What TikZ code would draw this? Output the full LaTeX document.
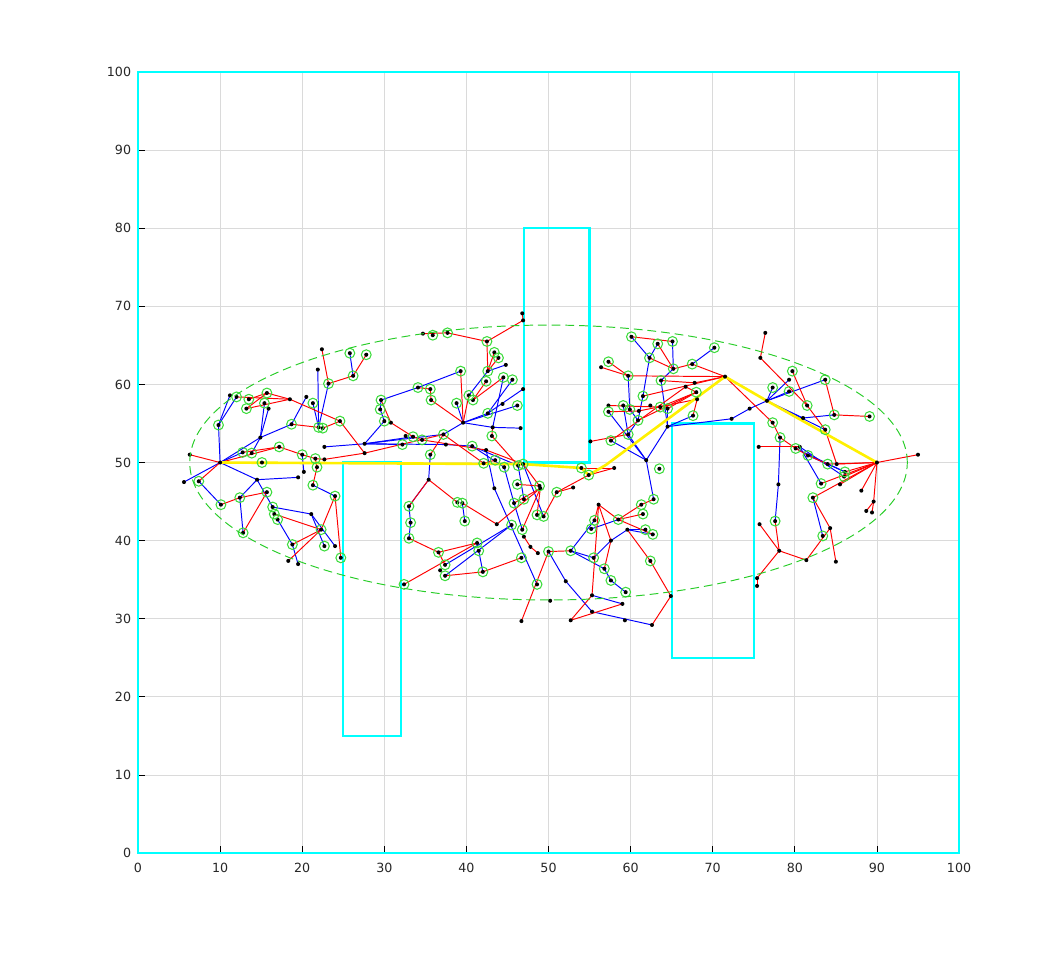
\documentclass[tikz,border=0pt]{standalone}
\usepackage{fontspec}
\setmainfont{DejaVu Sans}
\usepackage{tikz}

\definecolor{wallcyan}{RGB}{0,255,255}
\definecolor{ringgreen}{RGB}{60,220,60}
\definecolor{ellgreen}{RGB}{40,205,40}
\definecolor{pathyellow}{RGB}{255,240,0}
\definecolor{gridgray}{RGB}{218,218,218}

\begin{document}
\begin{tikzpicture}[x=0.1642cm,y=0.1562cm,
  tree/.style={blue,line width=.55pt},
  rewire/.style={red,line width=.55pt},
  ring/.style={ringgreen,line width=.6pt},
  lbl/.style={font=\fontsize{7.2}{8.6}\selectfont,inner sep=0pt,text=black!85}]
\useasboundingbox (-16.81,-13.57) rectangle (112.42,109.22);

% grid and ticks
\foreach \v in {10,20,...,90} {
  \draw[gridgray,line width=.4pt] (\v,0)--(\v,100);
  \draw[gridgray,line width=.4pt] (0,\v)--(100,\v);
  \draw[line width=.4pt] (\v,0)--(\v,0.9);
  \draw[line width=.4pt] (0,\v)--(0.9,\v);
}
\foreach \v in {0,10,...,100} {
  \node[lbl,anchor=north] (xt\v) at (\v,-1.3) {\v};
  \node[lbl,anchor=east] (yt\v) at (-0.8,\v) {\v};
}

% walls and obstacles
\draw[wallcyan,line width=1.3pt] (0,0) rectangle (100,100);
\draw[wallcyan,line width=1.3pt] (25,15) rectangle (32,50);
\draw[wallcyan,line width=1.3pt] (47,50) rectangle (55,80);
\draw[wallcyan,line width=1.3pt] (65,25) rectangle (75,55);

% tree vertices
\coordinate (S) at (10,50);
\coordinate (G) at (90,50);
\coordinate (p1) at (57.0,49.7);
\foreach \n/\x/\y in {
 l1/6.3/51.0, l2/9.8/54.8, l3/11.2/58.6, l4/12.0/58.4, l5/13.5/58.1, l6/13.2/56.9,
 l7/15.7/58.9, l8/15.4/57.6, l9/15.9/56.9, l10/18.5/58.1, l11/14.9/53.2, l12/12.75/51.3,
 l13/13.85/51.2, l14/17.2/52.0, l15/15.1/50.0, l16/18.7/54.9, l17/20.5/58.4, l18/21.3/57.6,
 l19/22.0/54.5, l20/22.5/54.4, l21/24.6/55.3, l22/22.4/64.5, l23/21.9/61.9, l24/23.2/60.1,
 l25/26.2/61.1, l26/25.8/64.0, l27/27.8/63.8, l28/20.0/51.0, l29/21.6/50.5, l30/22.7/50.4,
 l31/22.7/52.0, l32/27.6/52.4, l33/27.6/51.2, l34/20.2/48.8, l35/21.8/49.4, l36/5.6/47.5,
 l37/7.4/47.6, l38/10.1/44.6, l39/12.4/45.5, l40/15.7/46.2, l41/14.5/47.8, l42/12.8/41.0,
 l43/16.4/44.3, l44/16.6/43.4, l45/17.0/42.7, l46/21.1/43.4, l47/22.3/41.4, l48/22.7/39.3,
 l49/24.0/39.3, l50/24.7/37.8, l51/18.8/39.5, l52/18.3/37.4, l53/19.5/37.0, l54/19.5/48.1,
 l55/21.3/47.1, l56/24.0/45.7,
 m1/34.7/66.5, m2/35.9/66.3, m3/37.7/66.6, m4/42.5/65.5, m5/46.9/68.2, m6/46.8/69.1,
 m7/43.4/64.1, m8/43.9/63.4, m9/44.8/62.5, m10/42.6/61.7, m11/42.4/60.4, m12/39.3/61.7,
 m13/44.5/60.9, m14/45.6/60.6, m15/34.1/59.6, m16/35.6/59.4, m17/35.7/58.0, m18/40.3/58.6,
 m19/40.8/58.0, m20/38.8/57.6, m21/46.9/59.4, m22/44.4/57.5, m23/46.2/57.3, m24/42.6/56.3,
 m25/39.6/55.1, m26/43.2/54.5, m27/46.6/54.4, m28/43.1/53.4, m29/29.6/58.0, m30/29.5/56.8,
 m31/30.0/55.3, m32/30.8/55.1, m33/32.6/53.4, m34/33.5/53.3, m35/34.6/52.9, m36/37.2/53.6,
 m37/32.2/52.3, m38/37.5/52.3, m39/40.7/52.1, m40/42.4/51.6, m41/35.6/51.0, m42/42.1/49.9,
 m43/43.5/50.3, m44/44.6/49.4, m45/46.3/49.6, m46/46.9/49.8, m47/35.4/47.8, m48/33.0/44.4,
 m49/33.2/42.3, m50/33.0/40.3, m51/38.9/44.9, m52/39.5/44.8, m53/39.8/42.5, m54/43.7/42.1,
 m55/45.5/42.0, m56/36.6/38.5, m57/36.8/36.2, m58/37.4/36.9, m59/37.4/35.5, m60/41.3/39.7,
 m61/41.5/38.7, m62/42.0/36.0, m63/32.4/34.4, m64/46.7/37.8, m65/48.6/34.4, m66/46.7/29.7,
 m67/43.4/46.7, m68/46.2/47.2, m69/45.8/44.8, m70/47.0/45.3, m71/48.6/43.3, m72/49.4/43.1,
 m73/46.8/41.4, m74/47.0/40.5, m75/47.8/39.2, m76/48.7/38.4, m77/50.0/38.6, m78/48.9/47.0,
 m79/49.0/46.7,
 c1/60.1/66.1, c2/63.3/65.2, c3/65.1/65.5, c4/70.2/64.7, c5/62.3/63.4, c6/57.3/62.9,
 c7/56.4/62.2, c8/65.2/62.0, c9/67.5/62.6, c10/71.5/61.0, c11/59.7/61.1, c12/63.7/60.5,
 c13/67.8/60.2, c14/66.7/59.7, c15/68.0/59.0, c16/61.5/58.5, c17/68.1/58.1, c18/57.3/57.3,
 c19/59.1/57.3, c20/59.9/56.8, c21/61.0/56.6, c22/62.4/57.3, c23/63.6/57.1, c24/64.5/56.9,
 c25/57.3/56.5, c26/60.9/55.4, c27/67.6/56.0, c28/64.5/54.6, c29/59.7/53.6, c30/57.6/52.8,
 c31/55.1/52.7, c32/61.9/50.3, c33/63.5/49.2, c34/54.0/49.3, c35/54.9/48.4, c36/58.0/49.3,
 c37/53.0/46.8, c38/51.0/46.2, c39/56.1/44.6, c40/55.6/42.6, c41/55.2/41.5, c42/58.5/42.7,
 c43/61.3/44.6, c44/62.8/45.3, c45/61.5/43.4, c46/59.6/41.4, c47/61.8/41.4, c48/62.7/40.8,
 c49/57.6/40.0, c50/52.7/38.7, c51/55.5/37.8, c52/56.8/36.4, c53/57.6/34.9, c54/59.4/33.4,
 c55/62.4/37.4, c56/52.1/34.8, c57/50.2/32.3, c58/55.3/33.0, c59/59.0/31.9, c60/55.3/30.9,
 c61/52.7/29.8, c62/59.3/29.8, c63/62.6/29.2, c64/64.9/32.9, c65/72.3/55.6,
 r1/76.4/66.6, r2/75.8/63.4, r3/79.7/61.7, r4/79.3/60.6, r5/77.3/59.6, r6/79.3/59.1,
 r7/76.6/57.9, r8/83.7/60.6, r9/81.5/57.3, r10/74.5/56.9, r11/81.0/55.7, r12/84.8/56.1,
 r13/89.1/55.9, r14/77.3/55.1, r15/83.7/54.2, r16/78.2/53.2, r17/75.6/52.0, r18/80.1/51.8,
 r19/80.6/52.0, r20/81.6/50.9, r21/84.0/49.8, r22/85.1/49.8, r23/95.0/51.0, r24/86.1/48.8,
 r25/86.0/48.2, r26/78.0/47.2, r27/77.6/42.5, r28/75.7/42.1, r29/78.1/38.7, r30/81.4/37.5,
 r31/75.4/35.2, r32/75.4/34.2, r33/83.2/47.3, r34/82.2/45.5, r35/85.5/47.2, r36/83.4/40.6,
 r37/84.3/41.6, r38/85.0/37.3, r39/88.1/46.4, r40/89.6/45.0, r41/88.7/43.8, r42/89.4/43.6}
  \coordinate (\n) at (\x,\y);

% tree edges
\foreach \a/\b in {S/l2, l2/l3, l2/l4, l8/l11, l9/l11, l11/S, l11/l16, l16/l17, l18/l19,
 l23/l19, l24/l19, l25/l26, S/l12, l13/l11, l31/l32, S/l36, l37/l38, l39/l41, l39/l42,
 l41/l43, l41/S, l41/l54, l43/l46, l46/l48, l46/l49, l45/l51, l51/l53, l55/l56, l34/l28,
 m15/m29, m29/m30, m30/m31, m31/l32, l32/m36, l32/m34, l32/m38, m37/l32, m36/m25, m25/m20,
 m25/m24, m25/m26, m25/m23, m26/m27, m26/m13, m24/m14, m24/m21, m10/m9, m10/m18, m15/m12,
 m38/m39, m39/m44, m39/m45, m41/m47, m47/m48, m48/m49, m49/m50, m52/m53, m58/m55, m59/m55,
 m61/m62, m40/m67, m67/m65, m45/m70, m44/m69, m46/m72, m69/m73,
 c1/c5, c2/c5, c3/c8, c5/c16, c8/c12, c9/c4, c11/c20, c12/c28, c16/c26, c19/c29, c20/c26,
 c26/c29, c29/c32, c30/c32, c28/c32, c25/c32, c28/c27, c24/c28, c28/c65, c65/r10, r10/r7,
 r4/r7, r5/r7, r6/r7, r8/r7, r7/r15, r7/r11, r11/r12, c32/c44, c40/c50, c41/c42, c50/c51,
 c51/c49, c49/c46, c46/c47, c46/c48, c50/c52, c52/c53, c53/c54, m77/c56, c56/c60, c60/c63,
 c58/c59, r26/r16, r26/r27, r34/r36, r33/r19, r18/r24, r20/r24, r19/r25}
  \draw[tree] (\a)--(\b);

% rewired edges
\foreach \a/\b in {S/l1, S/l37, l4/l10, l5/l7, l7/l10, l6/l10, l6/l7, l10/l21, l16/l19,
 l20/l21, l21/l33, l22/l24, l24/l25, l25/l27, l12/l14, S/l14, l14/l28, l28/l29, l29/l30,
 l30/l33, S/l15, l38/l39, l39/l40, l42/l40, l44/l47, l47/l51, l47/l56, l47/l52, l56/l50,
 l29/l35, l35/l55,
 l33/m36, m29/m32, m32/m34, m34/m35, m35/m40, m36/m41, m36/m42, m1/m3, m3/m4, m4/m5,
 m5/m6, m4/m10, m7/m10, m8/m10, m11/m19, m12/m25, m15/m16, m16/m17, m17/m25, m19/m13,
 m18/m25, m26/m28, m28/m45, m42/m43, m40/m46, m47/m48, m47/m51, m52/m54, m54/m79, m50/m56,
 m56/m60, m56/m58, m59/m62, m62/m64, m63/m60, m66/m77, m46/m78, m79/m71, m79/m73, m79/m69,
 m74/m75, m75/m76, m68/m78,
 c1/c3, c2/c8, c5/c8, c8/c9, c9/c10, c7/c11, c6/c11, c11/c10, c12/c13, c13/c10, c16/c10,
 c14/c15, c18/c23, c23/c15, c24/c15, c25/c21, c21/c17, c26/c15, c27/c17, c31/c29, c30/c14,
 c34/c36, c35/c36, c37/c38, c38/c35, c38/m72, c39/c42, c39/c40, c39/c58, c39/c49, c42/c43,
 c42/c45, c42/c48, c43/c44, c46/c55, c55/c64, c64/c63, c49/c52, c50/m77, c58/c61, c61/c59,
 r1/r2, r2/r9, r3/r9, r8/r12, r12/r13, r9/r15, r15/r22, r22/G, r24/G, r25/G, G/r23,
 c10/r14, r14/r16, r16/r18, r18/r20, r20/r21, r21/G, r17/r19, r34/G, r33/G, r35/G, r39/G,
 r40/G, r41/r40, r42/r40, r27/r29, r28/r29, r29/r30, r30/r37, r37/r38, r37/r34, r29/r31,
 r31/r32}
  \draw[rewire] (\a)--(\b);

% best path
\draw[pathyellow,line width=1.5pt,line join=round] (S)--(m46)--(c34)--(c35)--(p1)--(c10)--(r7)--(G);

% vertices
\foreach \n in {S,G,l1,l2,l3,l4,l5,l6,l7,l8,l9,l10,l11,l12,l13,l14,l15,l16,l17,l18,l19,l20,
 l21,l22,l23,l24,l25,l26,l27,l28,l29,l30,l31,l32,l33,l34,l35,l36,l37,l38,l39,l40,l41,l42,l43,
 l44,l45,l46,l47,l48,l49,l50,l51,l52,l53,l54,l55,l56,
 m1,m2,m3,m4,m5,m6,m7,m8,m9,m10,m11,m12,m13,m14,m15,m16,m17,m18,m19,m20,m21,m22,m23,m24,
 m25,m26,m27,m28,m29,m30,m31,m32,m33,m34,m35,m36,m37,m38,m39,m40,m41,m42,m43,m44,m45,m46,
 m47,m48,m49,m50,m51,m52,m53,m54,m55,m56,m57,m58,m59,m60,m61,m62,m63,m64,m65,m66,m67,m68,
 m69,m70,m71,m72,m73,m74,m75,m76,m77,m78,m79,
 c1,c2,c3,c4,c5,c6,c7,c8,c9,c10,c11,c12,c13,c14,c15,c16,c17,c18,c19,c20,c21,c22,c23,c24,
 c25,c26,c27,c28,c29,c30,c31,c32,c33,c34,c35,c36,c37,c38,c39,c40,c41,c42,c43,c44,c45,c46,
 c47,c48,c49,c50,c51,c52,c53,c54,c55,c56,c57,c58,c59,c60,c61,c62,c63,c64,c65,
 r1,r2,r3,r4,r5,r6,r7,r8,r9,r10,r11,r12,r13,r14,r15,r16,r17,r18,r19,r20,r21,r22,r23,r24,
 r25,r26,r27,r28,r29,r30,r31,r32,r33,r34,r35,r36,r37,r38,r39,r40,r41,r42}
  \fill (\n) circle(1.15pt);

% near-path vertices
\foreach \n in {l2,l4,l5,l6,l7,l8,l12,l13,l14,l15,l16,l18,l19,l20,l21,l24,l25,l26,l27,l28,
 l29,l35,l37,l38,l39,l40,l42,l43,l44,l45,l47,l48,l50,l51,l55,l56,
 m2,m3,m4,m7,m8,m10,m11,m12,m13,m14,m15,m16,m17,m18,m19,m20,m23,m24,m28,m29,m30,m31,m34,
 m35,m36,m37,m39,m41,m42,m43,m44,m45,m46,m48,m49,m50,m51,m52,m53,m55,m56,m58,m59,m60,m61,
 m62,m63,m64,m65,m68,m69,m70,m71,m72,m73,m77,m78,
 c1,c2,c3,c4,c5,c6,c8,c9,c11,c12,c15,c16,c19,c20,c23,c24,c25,c26,c27,c29,c30,c33,c34,c35,
 c38,c40,c41,c42,c43,c44,c45,c47,c48,c50,c51,c52,c53,c54,c55,
 r3,r5,r6,r8,r9,r12,r13,r14,r15,r16,r18,r20,r21,r24,r25,r27,r33,r34,r36}
  \draw[ring] (\n) circle(2.8pt);

% sampling region
\draw[ellgreen,line width=.55pt,dash pattern=on 5pt off 2.8pt] (50,50) ellipse (43.7 and 17.6);
\end{tikzpicture}
\end{document}
